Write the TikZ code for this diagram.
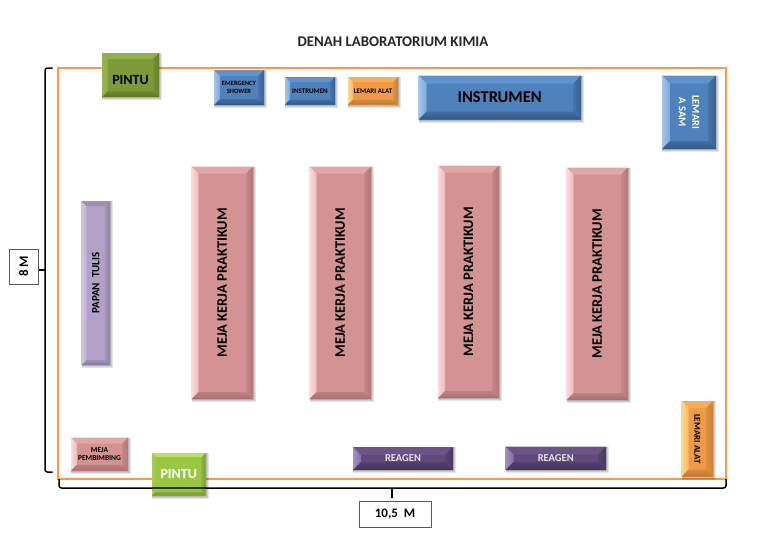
\documentclass[tikz,border=0pt]{standalone}
\usepackage{fontspec}
\setmainfont{Carlito}
\usetikzlibrary{calc}
\definecolor{wallc}{HTML}{F9994F}
\definecolor{bluem}{HTML}{4F81BD}\definecolor{bluel}{HTML}{A3C6EE}\definecolor{blued}{HTML}{345781}\definecolor{bluet}{HTML}{6092CC}
\definecolor{orgm}{HTML}{F09A45}\definecolor{orgl}{HTML}{FFD68A}\definecolor{orgd}{HTML}{B8793A}\definecolor{orgt}{HTML}{F8AE58}
\definecolor{pinkm}{HTML}{D49392}\definecolor{pinkl}{HTML}{FFDAD9}\definecolor{pinkd}{HTML}{A56E6D}\definecolor{pinkt}{HTML}{E3A6A5}
\definecolor{purm}{HTML}{5F497A}\definecolor{purl}{HTML}{A48FC4}\definecolor{purd}{HTML}{433359}\definecolor{purt}{HTML}{6B5488}
\definecolor{lilm}{HTML}{B1A0C7}\definecolor{lill}{HTML}{CFC2E2}\definecolor{lild}{HTML}{857898}\definecolor{lilt}{HTML}{9F90B3}
\definecolor{olvm}{HTML}{7D9A3A}\definecolor{olvl}{HTML}{98B54E}\definecolor{olvd}{HTML}{5E762A}\definecolor{olvt}{HTML}{93B04A}
\definecolor{grnm}{HTML}{9BC545}\definecolor{grnl}{HTML}{A3CD4C}\definecolor{grnd}{HTML}{6F9231}\definecolor{grnt}{HTML}{B9E060}
\tikzset{
  x=1pt,y=-1pt,
  wall/.style={draw=wallc,line width=2pt},
  dimline/.style={draw=black,line width=1.5pt,rounded corners=2.5pt},
  dimbox/.style={draw=black!65,line width=1pt,fill=white,font=\bfseries\fontsize{13}{13}\selectfont,inner sep=0pt,text=black},
  lbl/.style={font=\bfseries\fontsize{#1}{#1}\selectfont,align=center,inner sep=0pt},
  softshadow/.style={fill=black,opacity=.10}
}
\def\tshift{0}
% name, x0,y0,x1,y1, bevel size, colour stem, text colour, rotation, size, text
\newcommand{\bev}[9]{%
  \def\nm{#1}\def\xa{#2}\def\ya{#3}\def\xb{#4}\def\yb{#5}\def\bs{#6}\def\cs{#7}\def\tc{#8}\def\rt{#9}\bevtail}
\newcommand{\bevtail}[2]{%
  \fill[softshadow] (\xa,\ya) rectangle (\xb+3,\yb+3);
  \fill[softshadow] (\xa,\ya) rectangle (\xb+2,\yb+2);
  \fill[softshadow] (\xa,\ya) rectangle (\xb+1,\yb+1);
  \fill[\cs m] (\xa,\ya) rectangle (\xb,\yb);
  \fill[\cs t] (\xa,\ya) -- (\xb,\ya) -- (\xb-\bs,\ya+\bs) -- (\xa+\bs,\ya+\bs) -- cycle;
  \shade[left color=\cs l,right color=\cs l!55!\cs m] (\xa,\ya) -- (\xa+\bs,\ya+\bs) -- (\xa+\bs,\yb-\bs) -- (\xa,\yb) -- cycle;
  \shade[left color=\cs d!30!\cs m,right color=\cs d!75!\cs m] (\xb,\ya) -- (\xb-\bs,\ya+\bs) -- (\xb-\bs,\yb-\bs) -- (\xb,\yb) -- cycle;
  \shade[top color=\cs d!45!\cs m,bottom color=\cs d] (\xa,\yb) -- (\xa+\bs,\yb-\bs) -- (\xb-\bs,\yb-\bs) -- (\xb,\yb) -- cycle;
  \node[lbl={#1},text=\tc,rotate=\rt] (\nm) at ({(\xa+\xb)/2},{(\ya+\yb)/2+\tshift}) {#2};
}
\begin{document}
\begin{tikzpicture}
\useasboundingbox (0,0) rectangle (768,544);
\fill[white] (0,0) rectangle (768,544);
\node[lbl=14.8,text=black!85] (title) at (393,42) {DENAH LABORATORIUM KIMIA};
% room
\draw[wall] (57.5,68) rectangle (726,479);
% dimension brackets
\coordinate (lt) at (52.5,68); \coordinate (lb) at (52.5,472); \coordinate (rb) at (726,479); \coordinate (bl) at (59,479);
\node[dimbox,minimum width=28.5pt,minimum height=35pt] (hbox) at (23.75,266.5) {\rotatebox{90}{8 M}};
\node[dimbox,minimum width=72pt,minimum height=26pt] (wbox) at (395,514) {10,5\ \ M};
\draw[dimline] (lt) -- (45,68) -- (45,472) -- (lb);
\draw[line width=1.8pt] (45,270) -- (hbox.east |- 0,270);
\draw[dimline] (bl) -- (59,488) -- (726,488) -- (rb);
\draw[line width=1.5pt] (392,488) -- (392,498);
% fixtures
\def\tshift{5}
\bev{pintua}{102}{53}{159}{97}{6}{olv}{black}{0}{14}{PINTU}
\def\tshift{0}
\bev{shower}{214}{70}{264}{105}{6}{blue}{black}{0}{6.5}{EMERGENCY\\[1pt]SHOWER}
\bev{instsm}{285}{77}{335}{104.5}{5}{blue}{black}{0}{7}{INSTRUMEN}
\bev{lemaria}{348}{77}{398}{104.5}{5}{org}{black}{0}{7}{LEMARI ALAT}
\bev{instlg}{418.5}{75.5}{581}{119.5}{8}{blue}{black}{0}{16.5}{INSTRUMEN}
\bev{asam}{662}{75.5}{716}{149}{8}{blue}{white}{-90}{10.5}{LEMARI\\[3pt]A SAM}
\bev{papan}{81.5}{201}{110}{365}{5}{lil}{black}{90}{11}{PAPAN\ \ TULIS}
\bev{mejaa}{191.5}{166.5}{253}{399}{7}{pink}{black}{90}{14.5}{MEJA KERJA PRAKTIKUM}
\bev{mejab}{309.5}{166.5}{371}{399}{7}{pink}{black}{90}{14.5}{MEJA KERJA PRAKTIKUM}
\bev{mejac}{438}{165.5}{499}{398}{7}{pink}{black}{90}{14.5}{MEJA KERJA PRAKTIKUM}
\bev{mejad}{566.5}{167.5}{628}{400}{7}{pink}{black}{90}{14.5}{MEJA KERJA PRAKTIKUM}
\bev{pemb}{71}{437.5}{128}{470.5}{6}{pink}{black}{0}{7.5}{MEJA\\[1pt]PEMBIMBING}
\bev{pintub}{152}{453}{205.5}{495.5}{4}{grn}{white}{0}{14}{PINTU}
\bev{reagena}{353}{447}{453}{470}{8}{pur}{white!90!black}{0}{10.5}{REAGEN}
\bev{reagenb}{505.5}{446.5}{606}{470}{8}{pur}{white!90!black}{0}{10.5}{REAGEN}
\bev{lemarib}{681.5}{401}{713}{476.5}{7}{org}{black}{-90}{9}{LEMARI ALAT}
\draw[line width=1.5pt,draw=black,opacity=.75] (152,488) -- (205.5,488);
\end{tikzpicture}
\end{document}
